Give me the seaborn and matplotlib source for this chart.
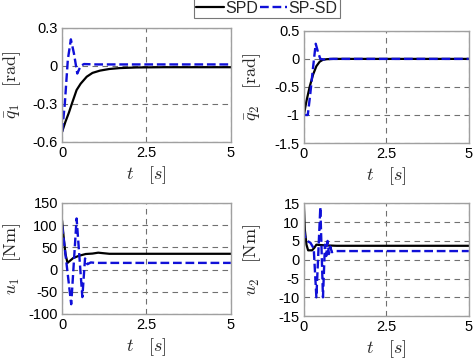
import matplotlib
matplotlib.use("Agg")
import matplotlib.pyplot as plt
import numpy as np
import seaborn as sns

# joint 1 position error [rad]
t_q1_spd = [0, 0.1, 0.2, 0.3, 0.43, 0.55, 0.73, 0.9, 1.12, 1.4, 1.7, 2.2, 3, 4, 5]
q1_spd = [-0.52, -0.44, -0.37, -0.29, -0.19, -0.14, -0.085, -0.055, -0.037,
          -0.024, -0.017, -0.012, -0.01, -0.01, -0.01]
t_q1_spsd = [0, 0.08, 0.17, 0.26, 0.35, 0.45, 0.55, 0.65, 1.0, 5]
q1_spsd = [-0.52, -0.3, 0.05, 0.21, 0.1, -0.06, 0.0, 0.015, 0.012, 0.012]

# joint 2 position error [rad]
t_q2_spd = [0, 0.08, 0.18, 0.28, 0.38, 0.48, 0.58, 0.7, 0.9, 1.2, 5]
q2_spd = [-1.0, -0.75, -0.49, -0.28, -0.13, -0.05, -0.015, -0.005, 0, 0, 0]
t_q2_spsd = [0, 0.12, 0.2, 0.28, 0.36, 0.43, 0.5, 0.6, 0.8, 5]
q2_spsd = [-1.0, -1.0, -0.6, -0.15, 0.27, 0.12, 0.0, -0.01, 0.0, 0.0]

# joint 1 torque [Nm]
t_u1_spd = [0, 0.05, 0.1, 0.16, 0.33, 0.5, 0.7, 0.9, 1.07, 1.2, 1.4, 2, 3, 4, 5]
u1_spd = [110, 70, 35, 15, 26, 31, 35, 36, 38, 37, 35.5, 35.5, 35.5, 35.5, 35.5]
t_u1_spsd = [0, 0.27, 0.43, 0.6, 0.68, 0.75, 0.85, 1.0, 5]
u1_spsd = [100, -78, 115, -62, 25, 12, 16, 15, 15]

# joint 2 torque [Nm]
t_u2_spd = [0, 0.03, 0.08, 0.13, 0.25, 0.32, 0.38, 0.5, 0.7, 1, 5]
u2_spd = [15, 8, 4, 2.5, 2.5, 3.2, 4.0, 3.9, 3.8, 3.7, 3.7]
t_u2_spsd = [0, 0.04, 0.1, 0.2, 0.3, 0.38, 0.5, 0.58, 0.64, 0.68, 0.72, 0.76,
             0.8, 0.85, 0.95, 5]
u2_spsd = [8, 6, 5, 4.5, 3, -10, 14, -10, 4, 1, 5, 1.5, 3.5, 2, 2.3, 2.3]

ylabels = [r'$\bar{q}_1 \quad [\mathrm{rad}]$', r'$\bar{q}_2 \quad [\mathrm{rad}]$',
           r'$u_1 \quad [\mathrm{Nm}]$', r'$u_2 \quad [\mathrm{Nm}]$']
yticks = [[-0.6, -0.3, 0, 0.3], [-1.5, -1, -0.5, 0, 0.5],
          [-100, -50, 0, 50, 100, 150], [-15, -10, -5, 0, 5, 10, 15]]
xticks = [0, 2.5, 5]

sns.set_style("white")
plt.rcParams['font.family'] = ['Liberation Sans', 'DejaVu Sans']
plt.rcParams['mathtext.fontset'] = 'cm'

fig = plt.figure(figsize=(4.74, 3.63), dpi=100)
rects = [[0.131, 0.609, 0.356, 0.314], [0.641, 0.606, 0.348, 0.309],
         [0.131, 0.135, 0.356, 0.306], [0.641, 0.129, 0.348, 0.311]]
series = [(t_q1_spd, q1_spd, t_q1_spsd, q1_spsd),
          (t_q2_spd, q2_spd, t_q2_spsd, q2_spsd),
          (t_u1_spd, u1_spd, t_u1_spsd, u1_spsd),
          (t_u2_spd, u2_spd, t_u2_spsd, u2_spsd)]

axes = []
for i, (r, s) in enumerate(zip(rects, series)):
    ax = fig.add_axes(r)
    axes.append(ax)
    ta, va, tb, vb = s
    sns.lineplot(x=ta, y=va, ax=ax, color='black', linewidth=1.6,
                 estimator=None, sort=False, label='SPD', legend=False)
    sns.lineplot(x=tb, y=vb, ax=ax, color='#1010d8', linewidth=1.7,
                 linestyle='--', estimator=None, sort=False, label='SP-SD',
                 legend=False)
    ax.set_xlim(0, 5)
    ax.set_ylim(yticks[i][0], yticks[i][-1])
    ax.set_xticks(xticks)
    ax.set_xticklabels(['0', '2.5', '5'])
    ax.set_yticks(yticks[i])
    ax.set_yticklabels([('%g' % v) for v in yticks[i]])
    ax.grid(True, linestyle=(0, (5, 4)), color='#707070', linewidth=0.8)
    ax.set_axisbelow(True)
    for sp in ax.spines.values():
        sp.set_color('#a0a0a0')
        sp.set_linewidth(1.0)
    ax.tick_params(labelsize=10.5, length=0, pad=3, colors='black')
    ax.set_xlabel(r'$t \quad [s]$', fontsize=13)
    ax.set_ylabel(ylabels[i], fontsize=13)
    ax.xaxis.set_label_coords(0.5, -0.2)
    ax.yaxis.set_label_coords(-0.23 if i % 2 == 0 else -0.25, 0.5)

h, l = axes[0].get_legend_handles_labels()
leg = fig.legend(h, l, loc='upper center', bbox_to_anchor=(0.563, 1.005), ncol=2,
                 fontsize=11.5, frameon=True, fancybox=False, handlelength=1.7,
                 columnspacing=0.1, handletextpad=0.1, borderpad=0.15,
                 borderaxespad=0)
leg.get_frame().set_edgecolor('#555555')
leg.get_frame().set_linewidth(0.8)

fig.savefig('out.png', dpi=100)
